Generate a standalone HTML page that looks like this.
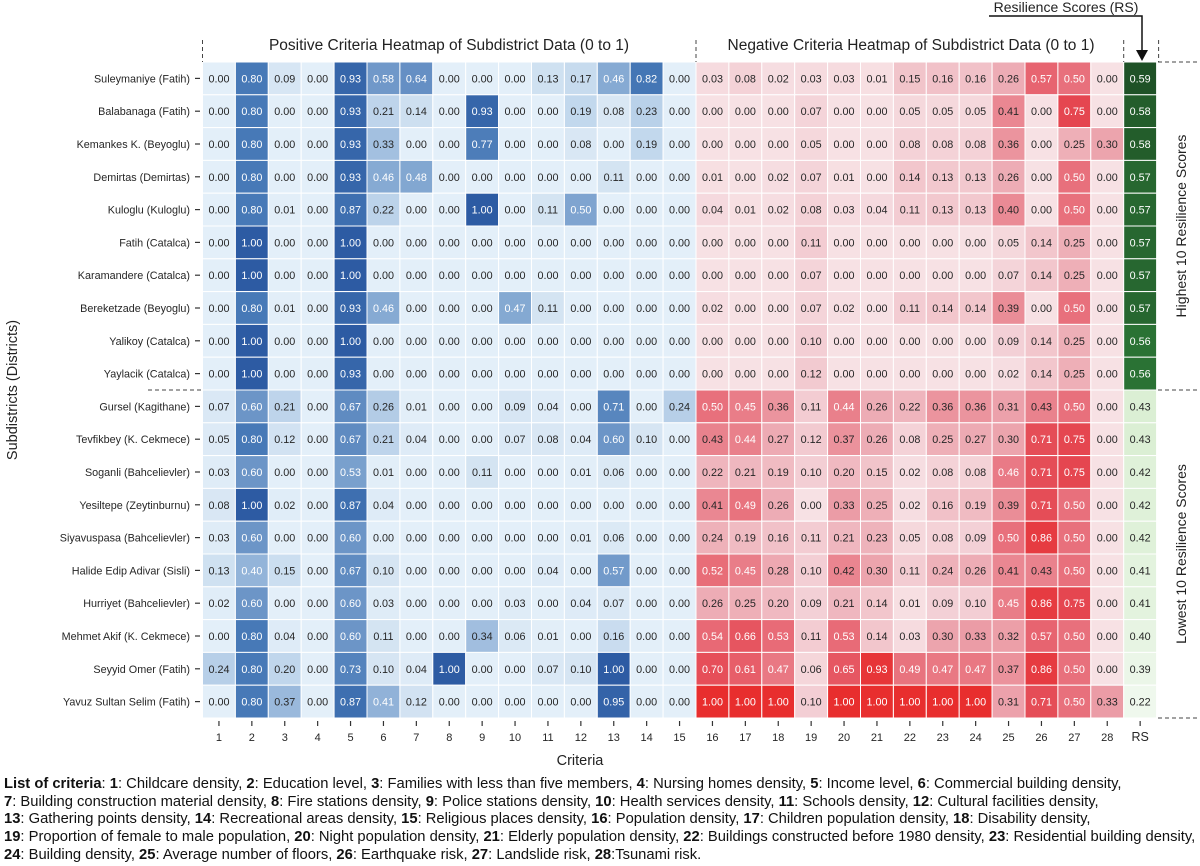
<!DOCTYPE html>
<html><head><meta charset="utf-8"><style>
body{margin:0;background:#fff;font-family:"Liberation Sans",sans-serif;}
svg{display:block}
.foot{position:absolute;left:4px;top:776px;font-size:14.75px;line-height:17.7px;color:#111;white-space:nowrap}
</style></head><body>
<div style="position:relative;width:1200px;height:866px;overflow:hidden">
<svg id="chart" width="1200" height="866"></svg>
<div class="foot">
<b>List of criteria</b>: <b>1</b>: Childcare density, <b>2</b>: Education level, <b>3</b>: Families with less than five members, <b>4</b>: Nursing homes density, <b>5</b>: Income level, <b>6</b>: Commercial building density,<br>
<b>7</b>: Building construction material density, <b>8</b>: Fire stations density, <b>9</b>: Police stations density, <b>10</b>: Health services density, <b>11</b>: Schools density, <b>12</b>: Cultural facilities density,<br>
<b>13</b>: Gathering points density, <b>14</b>: Recreational areas density, <b>15</b>: Religious places density, <b>16</b>: Population density, <b>17</b>: Children population density, <b>18</b>: Disability density,<br>
<b>19</b>: Proportion of female to male population, <b>20</b>: Night population density, <b>21</b>: Elderly population density, <b>22</b>: Buildings constructed before 1980 density, <b>23</b>: Residential building density,<br>
<b>24</b>: Building density, <b>25</b>: Average number of floors, <b>26</b>: Earthquake risk, <b>27</b>: Landslide risk, <b>28</b>:Tsunami risk.
</div>
</div>
<script>
const subdistricts = ["Suleymaniye (Fatih)","Balabanaga (Fatih)","Kemankes K. (Beyoglu)","Demirtas (Demirtas)","Kuloglu (Kuloglu)","Fatih (Catalca)","Karamandere (Catalca)","Bereketzade (Beyoglu)","Yalikoy (Catalca)","Yaylacik (Catalca)","Gursel (Kagithane)","Tevfikbey (K. Cekmece)","Soganli (Bahcelievler)","Yesiltepe (Zeytinburnu)","Siyavuspasa (Bahcelievler)","Halide Edip Adivar (Sisli)","Hurriyet (Bahcelievler)","Mehmet Akif (K. Cekmece)","Seyyid Omer (Fatih)","Yavuz Sultan Selim (Fatih)"];
const criteriaLabels = ["1","2","3","4","5","6","7","8","9","10","11","12","13","14","15","16","17","18","19","20","21","22","23","24","25","26","27","28","RS"];
const positiveValues = [
[0,0.80,0.09,0,0.93,0.58,0.64,0,0,0,0.13,0.17,0.46,0.82,0],
[0,0.80,0,0,0.93,0.21,0.14,0,0.93,0,0,0.19,0.08,0.23,0],
[0,0.80,0,0,0.93,0.33,0,0,0.77,0,0,0.08,0,0.19,0],
[0,0.80,0,0,0.93,0.46,0.48,0,0,0,0,0,0.11,0,0],
[0,0.80,0.01,0,0.87,0.22,0,0,1.00,0,0.11,0.50,0,0,0],
[0,1.00,0,0,1.00,0,0,0,0,0,0,0,0,0,0],
[0,1.00,0,0,1.00,0,0,0,0,0,0,0,0,0,0],
[0,0.80,0.01,0,0.93,0.46,0,0,0,0.47,0.11,0,0,0,0],
[0,1.00,0,0,1.00,0,0,0,0,0,0,0,0,0,0],
[0,1.00,0,0,0.93,0,0,0,0,0,0,0,0,0,0],
[0.07,0.60,0.21,0,0.67,0.26,0.01,0,0,0.09,0.04,0,0.71,0,0.24],
[0.05,0.80,0.12,0,0.67,0.21,0.04,0,0,0.07,0.08,0.04,0.60,0.10,0],
[0.03,0.60,0,0,0.53,0.01,0,0,0.11,0,0,0.01,0.06,0,0],
[0.08,1.00,0.02,0,0.87,0.04,0,0,0,0,0,0,0,0,0],
[0.03,0.60,0,0,0.60,0,0,0,0,0,0,0.01,0.06,0,0],
[0.13,0.40,0.15,0,0.67,0.10,0,0,0,0,0.04,0,0.57,0,0],
[0.02,0.60,0,0,0.60,0.03,0,0,0,0.03,0,0.04,0.07,0,0],
[0,0.80,0.04,0,0.60,0.11,0,0,0.34,0.06,0.01,0,0.16,0,0],
[0.24,0.80,0.20,0,0.73,0.10,0.04,1.00,0,0,0.07,0.10,1.00,0,0],
[0,0.80,0.37,0,0.87,0.41,0.12,0,0,0,0,0,0.95,0,0]];
const negativeValues = [
[0.03,0.08,0.02,0.03,0.03,0.01,0.15,0.16,0.16,0.26,0.57,0.50,0],
[0,0,0,0.07,0,0,0.05,0.05,0.05,0.41,0,0.75,0],
[0,0,0,0.05,0,0,0.08,0.08,0.08,0.36,0,0.25,0.30],
[0.01,0,0.02,0.07,0.01,0,0.14,0.13,0.13,0.26,0,0.50,0],
[0.04,0.01,0.02,0.08,0.03,0.04,0.11,0.13,0.13,0.40,0,0.50,0],
[0,0,0,0.11,0,0,0,0,0,0.05,0.14,0.25,0],
[0,0,0,0.07,0,0,0,0,0,0.07,0.14,0.25,0],
[0.02,0,0,0.07,0.02,0,0.11,0.14,0.14,0.39,0,0.50,0],
[0,0,0,0.10,0,0,0,0,0,0.09,0.14,0.25,0],
[0,0,0,0.12,0,0,0,0,0,0.02,0.14,0.25,0],
[0.50,0.45,0.36,0.11,0.44,0.26,0.22,0.36,0.36,0.31,0.43,0.50,0],
[0.43,0.44,0.27,0.12,0.37,0.26,0.08,0.25,0.27,0.30,0.71,0.75,0],
[0.22,0.21,0.19,0.10,0.20,0.15,0.02,0.08,0.08,0.46,0.71,0.75,0],
[0.41,0.49,0.26,0,0.33,0.25,0.02,0.16,0.19,0.39,0.71,0.50,0],
[0.24,0.19,0.16,0.11,0.21,0.23,0.05,0.08,0.09,0.50,0.86,0.50,0],
[0.52,0.45,0.28,0.10,0.42,0.30,0.11,0.24,0.26,0.41,0.43,0.50,0],
[0.26,0.25,0.20,0.09,0.21,0.14,0.01,0.09,0.10,0.45,0.86,0.75,0],
[0.54,0.66,0.53,0.11,0.53,0.14,0.03,0.30,0.33,0.32,0.57,0.50,0],
[0.70,0.61,0.47,0.06,0.65,0.93,0.49,0.47,0.47,0.37,0.86,0.50,0],
[1.00,1.00,1.00,0.10,1.00,1.00,1.00,1.00,1.00,0.31,0.71,0.50,0.33]];
const rsValues = [0.59,0.58,0.58,0.57,0.57,0.57,0.57,0.57,0.56,0.56,0.43,0.43,0.42,0.42,0.42,0.41,0.41,0.40,0.39,0.22];

const NS="http://www.w3.org/2000/svg";
const svg=document.getElementById('chart');
const X0=202.5, CW=32.9, Y0=62, RH=32.8;
const xPos=i=>X0+i*CW, yPos=r=>Y0+r*RH;
function mk(tag,attrs,parent){const e=document.createElementNS(NS,tag);for(const k in attrs)e.setAttribute(k,attrs[k]);(parent||svg).appendChild(e);return e;}
function lerpStops(stops,t){t=Math.max(0,Math.min(1,t));for(let i=1;i<stops.length;i++){if(t<=stops[i][0]){const a=stops[i-1],b=stops[i];const u=(t-a[0])/(b[0]-a[0]||1);const c=[0,1,2].map(k=>Math.round(a[1][k]+(b[1][k]-a[1][k])*u));return `rgb(${c})`;}}const l=stops[stops.length-1][1];return `rgb(${l})`;}
const blueStops=[[0,[227,239,249]],[0.1,[214,229,243]],[0.2,[192,214,236]],[0.46,[134,170,211]],[0.6,[108,149,199]],[0.8,[71,121,183]],[1,[45,91,163]]];
const redStops=[[0,[247,225,228]],[0.1,[243,206,212]],[0.3,[236,164,173]],[0.5,[232,112,124]],[0.75,[229,70,80]],[1,[232,46,46]]];
const greenStops=[[0,[239,248,237]],[0.25,[217,238,210]],[0.6,[80,150,85]],[0.8,[44,118,54]],[1,[27,72,34]]];
function txt(x,y,s,attrs){const t=mk('text',Object.assign({x:x,y:y},attrs||{}));t.textContent=s;return t;}

for(let r=0;r<20;r++){
  const row=[...positiveValues[r].map(v=>['b',v]),...negativeValues[r].map(v=>['r',v]),['g',rsValues[r]]];
  row.forEach(([kind,v],c)=>{
    let fill,white;
    if(kind==='b'){fill=lerpStops(blueStops,v);white=v>=0.4;}
    else if(kind==='r'){fill=lerpStops(redStops,v);white=v>=0.44;}
    else{fill=lerpStops(greenStops,(v-0.38)/(0.60-0.38));white=v>=0.5;}
    const rect=mk('rect',{x:xPos(c),y:yPos(r),width:CW,height:RH,fill:fill,stroke:'#fff','stroke-width':1});
    
    
    const t=txt(xPos(c)+CW/2,yPos(r)+RH/2+4,v.toFixed(2),{'text-anchor':'middle','font-size':10.8,fill:white?'#fff':'#262626'});
    
    
  });
  const lab=txt(190,yPos(r)+RH/2+4,subdistricts[r],{'text-anchor':'end','font-size':10.8,fill:'#262626'});
  
  
  mk('line',{x1:195,x2:200,y1:yPos(r)+RH/2,y2:yPos(r)+RH/2,stroke:'#333','stroke-width':1.2});
}
criteriaLabels.forEach((s,c)=>{
  const cx=xPos(c)+CW/2;
  mk('line',{x1:cx,x2:cx,y1:721,y2:726,stroke:'#333','stroke-width':1.2});
  const t=txt(cx,741,s,{'text-anchor':'middle','font-size':s==='RS'?12.5:11,fill:'#262626'});
  
  
});
const xt=txt(580,765,'Criteria',{'text-anchor':'middle','font-size':14.5,fill:'#222'});


const yt=txt(0,0,'Subdistricts (Districts)',{'text-anchor':'middle','font-size':14.5,fill:'#222',transform:'translate(17,390) rotate(-90)'});


const t1=txt(449,50,'Positive Criteria Heatmap of Subdistrict Data (0 to 1)',{'text-anchor':'middle','font-size':15.5,fill:'#222'});


const t2=txt(911,50,'Negative Criteria Heatmap of Subdistrict Data (0 to 1)',{'text-anchor':'middle','font-size':15.5,fill:'#222'});


const t3=txt(1066,12,'Resilience Scores (RS)',{'text-anchor':'middle','font-size':14,fill:'#222'});


mk('polyline',{points:'989,16 1142,16 1142,54',fill:'none',stroke:'#111','stroke-width':1.5});
mk('polygon',{points:'1136,50 1148,50 1142,61',fill:'#111'});
const dash={stroke:'#444','stroke-width':1,'stroke-dasharray':'4,3'};
[xPos(0),xPos(15),xPos(28),xPos(29)+2].forEach(x=>mk('line',Object.assign({x1:x,x2:x,y1:40,y2:62},dash)));
[[1158,1200,62],[1158,1200,390],[1158,1200,718],[148,201,390]].forEach(([a,b,y])=>mk('line',Object.assign({x1:a,x2:b,y1:y,y2:y},dash)));
const h1=txt(0,0,'Highest 10 Resilience Scores',{'text-anchor':'middle','font-size':14,fill:'#222',transform:'translate(1186,226) rotate(-90)'});


const h2=txt(0,0,'Lowest 10 Resilience Scores',{'text-anchor':'middle','font-size':14,fill:'#222',transform:'translate(1186,554) rotate(-90)'});


</script>
</body></html>
